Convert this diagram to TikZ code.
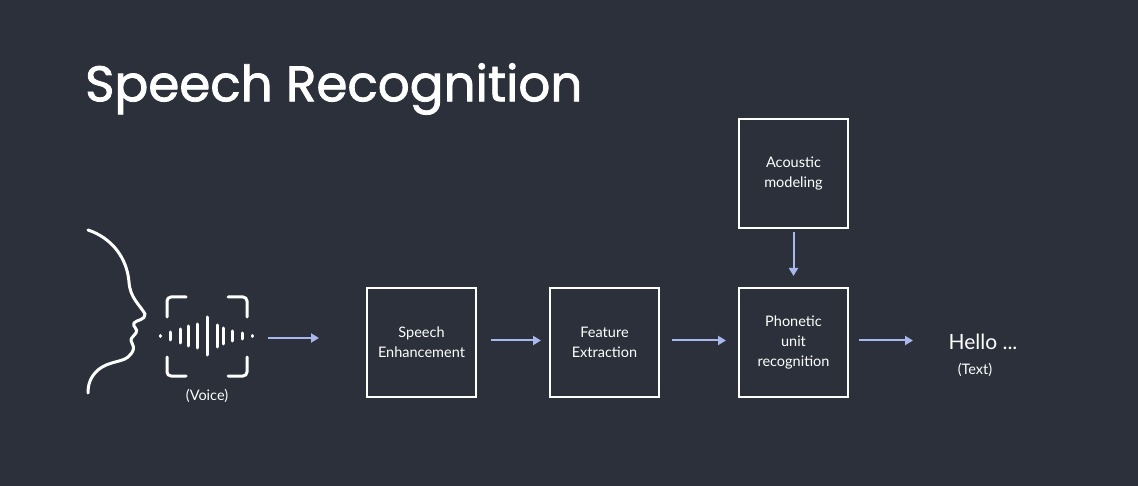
\documentclass[tikz,border=0pt]{standalone}
\usepackage{fontspec}
\setmainfont{Lato}
\newfontfamily\titlefont[FakeBold=1.6]{Poppins}
\usetikzlibrary{arrows.meta}
\definecolor{bg}{HTML}{2B303B}
\definecolor{arr}{HTML}{A9B8EC}
\begin{document}
\begin{tikzpicture}[x=1pt,y=-1pt,
  box/.style={draw=white,line width=2pt,minimum width=109pt,minimum height=109pt,align=center,text=white,font=\fontsize{14.5}{20}\selectfont,anchor=north west},
  ar/.style={arr,line width=2pt,-{Triangle[length=8pt,width=9pt]}},
  lbl/.style={text=white,font=\fontsize{14.5}{17}\selectfont},
  ln/.style={white,line width=3pt,line cap=round,line join=round}]
\fill[bg] (0,0) rectangle (1138,486);
\useasboundingbox (0,0) rectangle (1138,486);
\node[anchor=west,text=white,font=\titlefont\fontsize{50}{56}\selectfont,inner sep=0pt] (title) at (85,89) {Speech Recognition};
\node[box] (se) at (366,287) {Speech\\Enhancement};
\node[box] (fe) at (549,287) {Feature\\Extraction};
\node[box] (pu) at (738,287) {Phonetic\\unit\\recognition};
\node[box] (am) at (738,118) {Acoustic\\modeling};
\node[text=white,font=\fontsize{21}{24}\selectfont] (hello) at (983,342) {Hello ...};
\node[lbl] (text) at (975,370) {(Text)};
\node[lbl] (voice) at (207,396) {(Voice)};
\coordinate (v1) at (268,338); \coordinate (v2) at (319,338);
\draw[ar] (v1) -- (v2);
\draw[ar] ([xshift=14pt,yshift=2pt]se.east) -- ([xshift=-8pt,yshift=2pt]fe.west);
\draw[ar] ([xshift=12pt,yshift=2pt]fe.east) -- ([xshift=-12pt,yshift=2pt]pu.west);
\draw[ar,shorten <=3pt,shorten >=11pt] (am) -- (pu);
\draw[ar] ([xshift=10pt,yshift=2pt]pu.east) -- ++(54,0);
% face
\draw[ln] (88,230) .. controls (112,238) and (127,258) .. (129,282)
  .. controls (130,298) and (140,305) .. (145,314)
  .. controls (146,320) and (136,320) .. (134,323)
  .. controls (132,327) and (139,329) .. (136,333)
  .. controls (133,337) and (129,339) .. (132,343)
  .. controls (135,348) and (133,352) .. (130,355)
  .. controls (124,363) and (110,360) .. (98,370)
  .. controls (90,377) and (88,385) .. (88,393);
% frame
\draw[ln,rounded corners=4pt] (167,317) |- (186,297);
\draw[ln,rounded corners=4pt] (228,297) -| (247,317);
\draw[ln,rounded corners=4pt] (167,357) |- (186,376);
\draw[ln,rounded corners=4pt] (228,376) -| (247,357);
% waveform
\foreach \x/\h in {160/0.5,170/4,180/7,188/10,197/12,207/19,217/11,223/8,232/5,242/3,252/0.5}
  \draw[ln] (\x,336-\h) -- (\x,336+\h);
\end{tikzpicture}
\end{document}
